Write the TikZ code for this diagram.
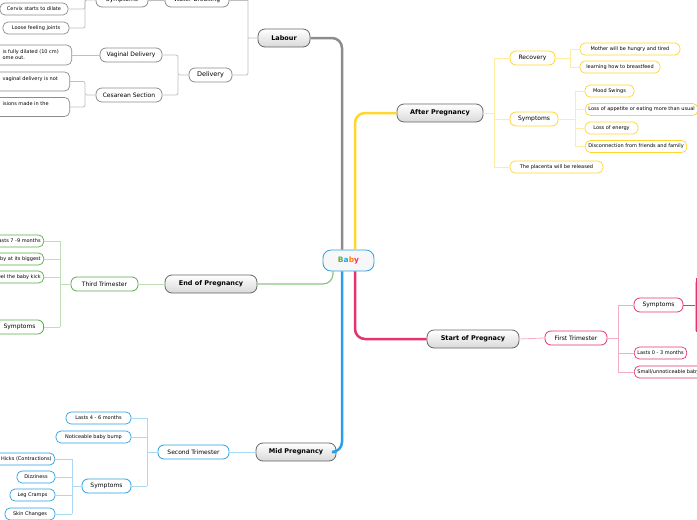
\documentclass[tikz,border=0pt]{standalone}
\usepackage{fontspec}
\setmainfont{DejaVu Sans}
\definecolor{cgray}{HTML}{8C8C8C}
\definecolor{cyel}{HTML}{FFD52E}
\definecolor{cpink}{HTML}{E5336F}
\definecolor{cblue}{HTML}{2A9FE6}
\definecolor{cgreen}{HTML}{5AAE48}
\tikzset{
 mainbox/.style={draw=black!60,line width=0.8pt,rounded corners=7pt,top color=white,bottom color=black!15,font=\fontsize{6.5}{7}\selectfont\bfseries,minimum height=18pt,inner xsep=2pt},
 midbox/.style={draw=#1,line width=0.8pt,rounded corners=6pt,fill=white,font=\fontsize{6}{7}\selectfont,minimum height=14pt,inner xsep=2pt},
 leafbox/.style={draw=#1,line width=0.7pt,rounded corners=5pt,fill=white,font=\fontsize{5}{6}\selectfont,minimum height=12pt,inner xsep=3pt},
 trunk/.style={draw=#1,line width=2.5pt,rounded corners=10pt},
 link/.style={draw=#1,line width=0.8pt,rounded corners=2pt},
}
\begin{document}
\begin{tikzpicture}[x=1pt,y=-1pt]
\useasboundingbox (0,0) rectangle (697,520);
% ---------- center
\node[draw=cblue,line width=0.8pt,rounded corners=8pt,fill=black!3,minimum width=51pt,minimum height=21pt,font=\fontsize{7.5}{8}\selectfont\bfseries] (baby) at (348.5,260.5)
 {\textcolor{cgreen}{B}\textcolor{cblue}{a}\textcolor{orange}{b}\textcolor{cpink}{y}};
% ---------- main nodes
\node[mainbox,minimum width=52pt] (labour) at (284,38) {Labour};
\node[mainbox,minimum width=86pt] (after) at (440,113) {After Pregnancy};
\node[mainbox,minimum width=92pt] (start) at (473,339) {Start of Pregnacy};
\node[mainbox,minimum width=92pt] (end) at (211,284) {End of Pregnancy};
\node[mainbox,minimum width=80pt] (mid) at (296,452) {Mid Pregnancy};
% trunks
\draw[trunk=cgray] (baby.north -| 342,0) -- (342,38) -- (labour.east);
\draw[trunk=cyel] (baby.north -| 355,0) -- (355,113) -- (after.west);
\draw[trunk=cpink] (baby.south -| 355,0) -- (355,339) -- (start.west);
\draw[trunk=cblue] (baby.south -| 342,0) -- (342,452) -- (mid.east);
\draw[draw=cgreen!70,line width=1.2pt,rounded corners=10pt] (333,271) -- (333,284) -- (end.east);
% ---------- Labour
\node[midbox=black!45,minimum width=64pt] (water) at (197,0) {Water Breaking};
\node[midbox=black!45,minimum width=52pt] (lsym) at (122,0) {Symptoms};
\node[leafbox=black!45,minimum width=68pt] (cervix) at (34,9) {Cervix starts to dilate};
\node[leafbox=black!45,minimum width=66pt] (loose) at (36,28) {Loose feeling joints};
\node[midbox=black!45,minimum width=62pt] (vag) at (131,55) {Vaginal Delivery};
\node[midbox=black!45,minimum width=43pt,font=\fontsize{6.5}{8}\selectfont] (deliv) at (210.5,75) {Delivery};
\node[midbox=black!45,minimum width=66pt] (ces) at (129,95) {Cesarean Section};
\node[leafbox=black!45,anchor=east,minimum height=20pt] (vagtxt) at (72,55) {\hspace*{22pt}\parbox{66pt}{is fully dilated (10 cm)\\ome out.}};
\node[leafbox=black!45,anchor=east,minimum height=19pt] (ces1) at (70,81.5) {\hspace*{25pt}\parbox{64pt}{vaginal delivery is not\\ }};
\node[leafbox=black!45,anchor=east,minimum height=19pt] (ces2) at (70,107) {\hspace*{23pt}\parbox{64pt}{isions made in the\\ }};
\draw[link=black!25] (labour.west) -- (248,38) (248,0) -- (248,75) -- (deliv.east);
\draw[link=black!25] (water.east) -- (248,0);
\draw[link=black!25] (water.west) -- (lsym.east);
\draw[link=black!25] (lsym.west) -- (85,0) |- (cervix.east);
\draw[link=black!25] (85,0) |- (loose.east);
\draw[link=black!25] (deliv.west) -- (178,75) |- (vag.east);
\draw[link=black!25] (178,75) |- (ces.east);
\draw[link=black!25] (ces.west) -- (85,95) |- (ces1.east);
\draw[link=black!25] (85,95) |- (ces2.east);
\draw[link=black!25] (vag.west) -- (vagtxt.east);
% ---------- After
\node[midbox=cyel,minimum width=45pt] (rec) at (532.5,58) {Recovery};
\node[midbox=cyel,minimum width=48pt] (asym) at (534,119) {Symptoms};
\node[leafbox=cyel,minimum width=93pt] (plac) at (556.5,167) {The placenta will be released};
\node[leafbox=cyel,minimum width=100pt] (moth) at (630,49) {Mother will be hungry and tired};
\node[leafbox=cyel,minimum width=80pt] (learn) at (620,67) {learning how to breastfeed};
\node[leafbox=cyel,minimum width=49pt] (mood) at (609.5,91) {Mood Swings};
\node[leafbox=cyel,anchor=west] (app) at (585,109.5) {Loss of appetite or eating more than usual};
\node[leafbox=cyel,minimum width=53pt] (energy) at (611.5,128) {Loss of energy};
\node[leafbox=cyel,anchor=west] (disc) at (585,146.5) {Disconnection from friends and family};
\draw[link=cyel!45] (after.east) -- (494,113) (494,58) -- (494,167) (494,58) -- (rec.west) (494,119) -- (asym.west) (494,167) -- (plac.west);
\draw[link=cyel!45] (rec.east) -- (570,58) (570,49) -- (570,67) (570,49) -- (moth.west) (570,67) -- (learn.west);
\draw[link=cyel!45] (asym.east) -- (575,119) (575,91) -- (575,146.5) (575,91) -- (mood.west) (575,109.5) -- (app.west) (575,128) -- (energy.west) (575,146.5) -- (disc.west);
% ---------- Start
\node[midbox=cpink,minimum width=62pt] (first) at (576,338) {First Trimester};
\node[midbox=cpink,minimum width=49pt] (psym) at (658.5,305) {Symptoms};
\node[leafbox=cpink,anchor=west] (lasts03) at (634,353) {Lasts 0 - 3 months};
\node[leafbox=cpink,anchor=west] (small) at (634,372) {Small/unnoticeable baby bump};
\coordinate (pbus) at (695,305);
\draw[link=cpink!40] (start.east) -- (first.west);
\draw[link=cpink!40] (first.east) -- (618,338) (618,305) -- (618,372) (618,305) -- (psym.west) (618,353) -- (lasts03.west) (618,372) -- (small.west);
\draw[link=cpink] (psym.east) -- (pbus);
\draw[link=cpink!40] (695,282) -- (695,330) (695,282) -- (697,282) (695,298) -- (697,298) (695,314) -- (697,314) (695,330) -- (697,330);
\draw[cpink,line width=0.8pt] (696.6,278) -- (696.6,332);
% ---------- End
\node[midbox=cgreen,minimum width=67pt] (third) at (104.5,284) {Third Trimester};
\node[leafbox=cgreen,anchor=east] (g1) at (44,241) {Lasts 7 -9 months};
\node[leafbox=cgreen,anchor=east] (g2) at (44,259) {Baby at its biggest};
\node[leafbox=cgreen,anchor=east] (g3) at (44,277) {You can feel the baby kick};
\node[midbox=cgreen,anchor=east,minimum width=70pt] (gsym) at (44,327) {\hspace*{22pt}Symptoms};
\draw[link=cgreen!40] (end.west) -- (third.east);
\draw[link=cgreen!40] (third.west) -- (60,284) (60,241) -- (60,327) (60,241) -- (g1.east) (60,259) -- (g2.east) (60,277) -- (g3.east) (60,327) -- (gsym.east);
% ---------- Mid
\node[midbox=cblue,minimum width=71pt] (second) at (193.5,452) {Second Trimester};
\node[leafbox=cblue,minimum width=65pt] (b1) at (98.5,418) {Lasts 4 - 6 months};
\node[leafbox=cblue,minimum width=75pt] (b2) at (93.5,437) {Noticeable baby bump};
\node[midbox=cblue,minimum width=49pt] (bsym) at (106.5,486) {Symptoms};
\node[leafbox=cblue,anchor=east] (c1) at (55,459) {Braxton Hicks (Contractions)};
\node[leafbox=cblue,minimum width=38pt] (c2) at (36,477) {Dizziness};
\node[leafbox=cblue,minimum width=45pt] (c3) at (32.5,495) {Leg Cramps};
\node[leafbox=cblue,minimum width=50pt] (c4) at (30,514) {Skin Changes};
\draw[link=cblue!40] (mid.west) -- (second.east);
\draw[link=cblue!40] (second.west) -- (147,452) (147,418) -- (147,486) (147,418) -- (b1.east) (147,437) -- (b2.east) (147,486) -- (bsym.east);
\draw[link=cblue!40] (bsym.west) -- (72,486) (72,459) -- (72,514) (72,459) -- (c1.east) (72,477) -- (c2.east) (72,495) -- (c3.east) (72,514) -- (c4.east);
\end{tikzpicture}
\end{document}
